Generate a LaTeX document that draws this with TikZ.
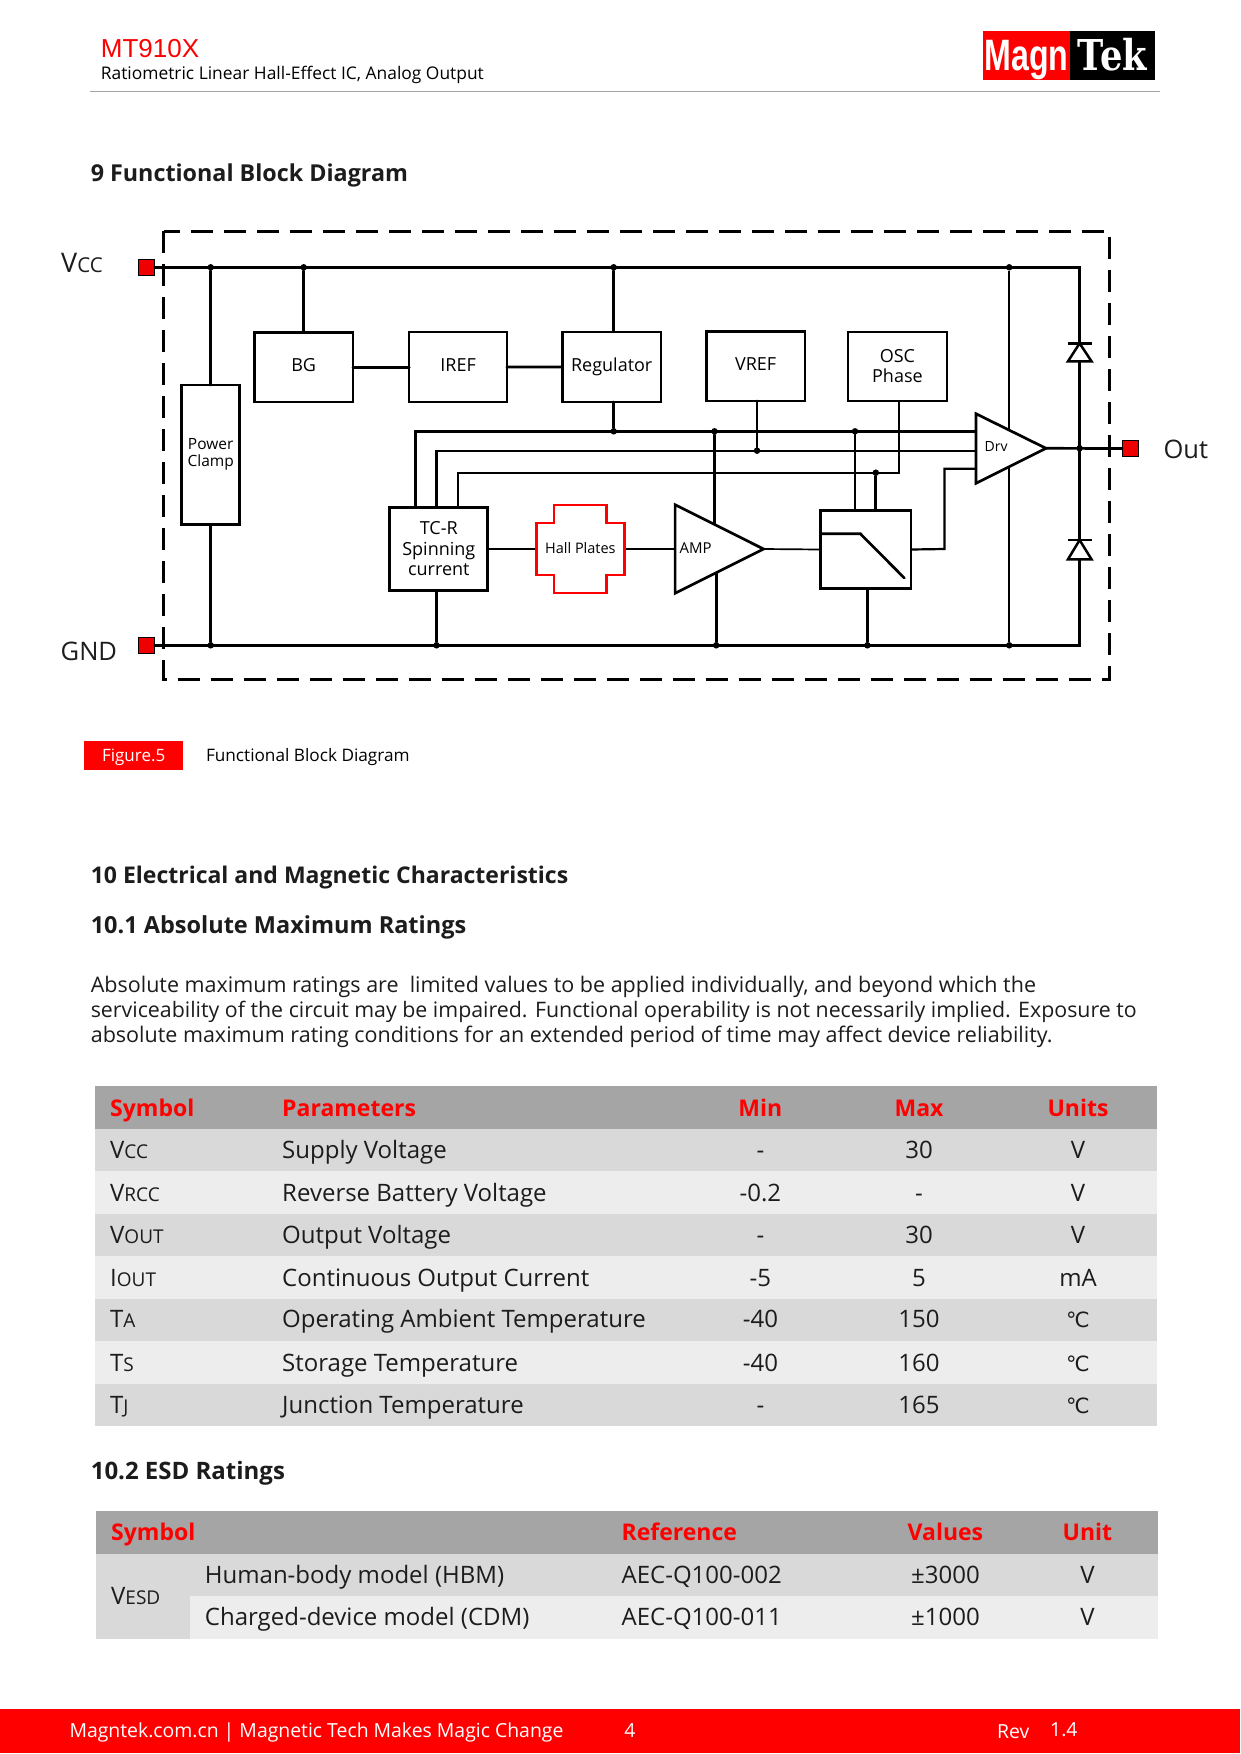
\documentclass[tikz,border=0pt]{standalone}
\usepackage{fontspec}
\setmainfont{Open Sans}
\newfontfamily\arialfont{Liberation Sans}
\newfontfamily\slabfont{DejaVu Serif}
\newfontfamily\symbolfont{DejaVu Sans}
\definecolor{magred}{HTML}{FF0000}
\definecolor{padred}{HTML}{EE0000}
\definecolor{headgray}{HTML}{A5A5A5}
\definecolor{rowdark}{HTML}{D9D9D9}
\definecolor{rowlight}{HTML}{EDEDED}
\definecolor{inkgray}{HTML}{1C1C1C}
\newcommand{\fsize}[1]{\fontsize{#1}{#1}\selectfont}
\newcommand{\capsub}[3][19]{#2{\fsize{#1}#3}}
\newcommand{\degc}{{\symbolfont\fsize{21}℃}}
\tikzset{
    wire/.style={line width=2.7pt, line cap=round, line join=miter},
    thinwire/.style={line width=2.2pt},
    hairwire/.style={line width=1.7pt},
    blockbox/.style={draw, fill=white, line width=2.5pt, inner sep=0pt, outer sep=0pt, align=center, font=\fsize{18}},
    oneline/.style={text depth=5pt},
    dot/.style={circle, fill=black, inner sep=0pt, minimum size=6.5pt},
    pad/.style={draw=black, line width=0.8pt, fill=padred, inner sep=0pt, minimum width=16pt, minimum height=16pt},
    pinlabel/.style={anchor=base west, inner sep=0pt, text=inkgray, font=\fsize{25.5}},
    smalllabel/.style={inner sep=0pt, align=center, text=black},
    heading/.style={anchor=base west, inner sep=0pt, text=inkgray, font=\bfseries\fsize{23.3}},
    bodyline/.style={anchor=base west, inner sep=0pt, text=inkgray, font=\fsize{21.5}},
    cellleft/.style={anchor=base west, inner sep=0pt, text=inkgray, font=\fsize{24}},
    cellmid/.style={anchor=base, inner sep=0pt, text=inkgray, font=\fsize{24}},
    headleft/.style={anchor=base west, inner sep=0pt, text=magred, font=\bfseries\fsize{23}},
    headmid/.style={anchor=base, inner sep=0pt, text=magred, font=\bfseries\fsize{23}},
    footer/.style={anchor=base west, inner sep=0pt, text=white, font=\fsize{19.4}}
}
\begin{document}
\begin{tikzpicture}[x=1pt, y=-1pt]
    \useasboundingbox (0,0) rectangle (1240,1754);
    \fill[white] (0,0) rectangle (1240,1754);

    % Page header
    \node[anchor=base west, inner sep=0pt, text=magred, font=\arialfont\fsize{26}] (partname) at (100.7,57.5) {MT910X};
    \node[anchor=base west, inner sep=0pt, text=black, font=\fsize{17.4}] (subtitle) at (100.7,79.5) {Ratiometric Linear Hall-Effect IC, Analog Output};
    \fill[magred] (983,31) rectangle (1070,79.7);
    \fill[black] (1070,31) rectangle (1155,79.7);
    \node[anchor=base, inner sep=0pt, text=white, font=\arialfont\bfseries\fsize{44}] (logomagn) at (1026.5,70) {\scalebox{0.73}[1]{Magn}};
    \node[anchor=base, inner sep=0pt, text=white, font=\slabfont\bfseries\fsize{42.5}] (logotek) at (1112.5,70) {\scalebox{0.83}[1]{Tek}};
    \draw[line width=1.3pt, color=headgray] (90,91.7) -- (1160,91.7);

    \node[heading] (sectionnine) at (90.6,181) {9 Functional Block Diagram};

    % Chip outline
    \draw[line width=2.9pt, dash pattern=on 22pt off 11pt] (163.6,231.3) rectangle (1109.9,679.3);

    % Junctions
    \node[pad] (vccpad) at (146.6,267.3) {};
    \node[pad] (gndpad) at (146.6,645.3) {};
    \node[pad] (outpad) at (1130.5,448.5) {};
    \node[dot] (vccclamp) at (210.7,267.3) {};
    \node[dot] (vccbg) at (303.7,267.3) {};
    \node[dot] (vccreg) at (613.7,267.3) {};
    \node[dot] (vccdrv) at (1009.2,267.3) {};
    \node[dot] (gndclamp) at (210.7,645.3) {};
    \node[dot] (gndtcr) at (436.5,645.3) {};
    \node[dot] (gndamp) at (716.2,645.3) {};
    \node[dot] (gndfilt) at (867.4,645.3) {};
    \node[dot] (gnddrv) at (1009.2,645.3) {};
    \node[dot] (outjoin) at (1079.6,448.3) {};
    \node[dot] (busreg) at (613.7,431.3) {};
    \node[dot] (busamp) at (714.5,431.3) {};
    \node[dot] (busfilt) at (855,431.3) {};
    \node[dot] (busvref) at (757,450.7) {};
    \node[dot] (busosc) at (875.8,472.7) {};
    \coordinate (vcccorner) at (1079.6,267.3);
    \coordinate (gndcorner) at (1079.6,645.3);
    \coordinate (tcrbusa) at (415.4,431.3);
    \coordinate (tcrbusb) at (436.5,450.7);
    \coordinate (tcrbusc) at (457.9,472.7);
    \coordinate (oscbus) at (899,472.7);
    \coordinate (drvina) at (980,431.3);
    \coordinate (drvinb) at (980,450.7);
    \coordinate (drvinc) at (980,468.7);
    \coordinate (filtbend) at (944.5,468.7);
    \coordinate (filtout) at (944.5,549);
    \coordinate (hallin) at (536.4,549);
    \coordinate (hallout) at (624.4,549);
    \coordinate (ampin) at (675.1,549);
    \coordinate (ampout) at (763.5,549);
    \coordinate (drvout) at (1046,448.3);

    % Blocks
    \node[blockbox, font=\fsize{15.5}, minimum width=58pt, minimum height=139.7pt] (clamp) at (210.7,454.8) {Power\\[1.5pt]Clamp};
    \node[blockbox, oneline, minimum width=98.7pt, minimum height=69.7pt] (bg) at (303.7,367.2) {BG};
    \node[blockbox, oneline, line width=2.2pt, minimum width=97.6pt, minimum height=69.7pt] (iref) at (458.1,367.2) {IREF};
    \node[blockbox, oneline, line width=2.2pt, minimum width=98.6pt, minimum height=70.3pt] (regulator) at (611.7,366.8) {Regulator};
    \node[blockbox, oneline, minimum width=98.3pt, minimum height=69.3pt] (vref) at (755.7,366.3) {VREF};
    \node[blockbox, line width=2.2pt, minimum width=98.8pt, minimum height=69.3pt] (osc) at (897.4,366.3) {OSC\\[2pt]Phase};
    \node[blockbox, line width=2.8pt, minimum width=98pt, minimum height=83pt] (tcr) at (438.8,548.8) {TC-R\\[2.5pt]Spinning\\[2.5pt]current};
    \node[blockbox, minimum width=90.7pt, minimum height=78.4pt] (filter) at (865.8,549.5) {};
    \draw[wire] (821,533.7) -- (860.3,533.7) -- (904.3,578);

    % Connections
    \draw[wire] (vccpad) -- (vcccorner) -- (gndcorner) -- (gndpad);
    \draw[wire] (vccclamp) -- (clamp);
    \draw[wire] (gndclamp) -- (clamp);
    \draw[wire] (vccbg) -- (bg);
    \draw[wire] (vccreg) -- (regulator.north -| vccreg);
    \draw[wire] (regulator.south -| busreg) -- (busreg);
    \draw[wire] (bg) -- (iref);
    \draw[wire] (iref) -- (regulator);
    \draw[wire] (tcrbusa |- tcr.north) -- (tcrbusa) -- (drvina);
    \draw[thinwire] (tcrbusb |- tcr.north) -- (tcrbusb) -- (drvinb);
    \draw[thinwire] (tcrbusc |- tcr.north) -- (tcrbusc) -- (oscbus) -- (oscbus |- osc.south);
    \draw[wire] (vref.south -| busvref) -- (busvref);
    \draw[wire] (busfilt) -- (busfilt |- filter.north);
    \draw[wire] (busosc) -- (busosc |- filter.north);
    \draw[wire] (filter.south -| gndfilt) -- (gndfilt);
    \draw[wire] (tcr.south -| gndtcr) -- (gndtcr);
    \draw[hairwire] (vccdrv) -- (gnddrv);
    \draw[wire] (busamp) -- (busamp |- ampin);
    \draw[wire] (gndamp |- ampin) -- (gndamp);
    \draw[hairwire] (tcr.east |- hallin) -- (hallin);
    \draw[hairwire] (hallout) -- (ampin);
    \draw[hairwire] (ampout) -- (filter.west);
    \draw[thinwire] (filter.east) -- (filtout) -- (filtbend) -- (drvinc);
    \draw[wire] (drvout) -- (outpad);

    % Hall plates and triangles
    \draw[draw=magred, fill=white, line width=2.2pt] (553.6,505.3) -- (606.4,505.3) -- (606.4,523.3) -- (624.4,523.3) -- (624.4,575) -- (606.4,575) -- (606.4,592.7) -- (553.6,592.7) -- (553.6,575) -- (536.4,575) -- (536.4,523.3) -- (553.6,523.3) -- cycle;
    \node[smalllabel, font=\fsize{14.5}] (hall) at (580.4,548) {Hall Plates};
    \draw[fill=white, line width=2.7pt, line join=miter] (675.1,504.7) -- (763.5,549) -- (675.1,593.3) -- cycle;
    \node[smalllabel, font=\fsize{15}, anchor=west] (amp) at (679.5,548) {AMP};
    \draw[fill=white, line width=2.7pt, line join=miter] (975.9,413.7) -- (1046,448.3) -- (975.9,483.3) -- cycle;
    \node[smalllabel, font=\fsize{14}, anchor=west] (drv) at (984.5,446) {Drv};

    % Clamp diodes
    \draw[fill=white, line width=2.5pt] (1068,361.3) -- (1079.6,343.3) -- (1091.5,361.3) -- cycle;
    \draw[line width=2.5pt] (1067.5,343.3) -- (1092,343.3);
    \draw[fill=white, line width=2.5pt] (1068,559.3) -- (1079.6,540) -- (1091.5,559.3) -- cycle;
    \draw[line width=2.5pt] (1067.5,540) -- (1092,540);

    % Pin labels
    \node[pinlabel] (vcclabel) at (61,272.8) {\capsub[20.5]{\fsize{27}V}{CC}};
    \node[pinlabel] (gndlabel) at (60.5,660.3) {GND};
    \node[pinlabel] (outlabel) at (1163.4,458.3) {Out};

    % Figure caption
    \fill[magred] (84,740.5) rectangle (183.4,769.5);
    \node[inner sep=0pt, text=white, font=\fsize{17}] (figtag) at (133.7,757) {Figure.5};
    \node[anchor=west, inner sep=0pt, text=black, font=\fsize{17.2}] (figcaption) at (205.8,757) {Functional Block Diagram};

    % Section 10 text
    \node[heading, font=\bfseries\fsize{23}] (sectionten) at (90.6,883) {10 Electrical and Magnetic Characteristics};
    \node[heading, font=\bfseries\fsize{23.5}] (sectionabs) at (90.6,933) {10.1 Absolute Maximum Ratings};
    \node[bodyline] (introa) at (90.6,992.5) {Absolute maximum ratings are\ \ limited values to be applied individually, and beyond which the};
    \node[bodyline, font=\fsize{21.35}] (introb) at (90.6,1017.5) {serviceability of the circuit may be impaired. Functional operability is not necessarily implied. Exposure to};
    \node[bodyline] (introc) at (90.6,1042.5) {absolute maximum rating conditions for an extended period of time may affect device reliability.};

    % Absolute maximum table
    \fill[headgray] (95,1086) rectangle (1157,1129);
    \node[headleft] (abssym) at (110,1116) {Symbol};
    \node[headleft] (absparam) at (282,1116) {Parameters};
    \node[headmid] (absmin) at (760.4,1116) {Min};
    \node[headmid] (absmax) at (919,1116) {Max};
    \node[headmid] (absunit) at (1078,1116) {Units};
    \foreach \rowid/\rowtop/\rowbot/\rowbase/\rowfill/\rowsym/\rowparam/\rowmin/\rowmax/\rowunit in {
        a/1129/1171/1158.3/rowdark/{\capsub{V}{CC}}/{Supply Voltage}/-/30/V,
        b/1171/1214/1201/rowlight/{\capsub{V}{RCC}}/{Reverse Battery Voltage}/-0.2/-/V,
        c/1214/1255.7/1243.5/rowdark/{\capsub{V}{OUT}}/{Output Voltage}/-/30/V,
        d/1255.7/1299/1286/rowlight/{\capsub{I}{OUT}}/{Continuous Output Current}/-5/5/mA,
        e/1299/1340.7/1327.7/rowdark/{\capsub{T}{A}}/{Operating Ambient Temperature}/-40/150/\degc,
        f/1340.7/1384/1371/rowlight/{\capsub{T}{S}}/{Storage Temperature}/-40/160/\degc,
        g/1384/1425.7/1413.2/rowdark/{\capsub{T}{J}}/{Junction Temperature}/-/165/\degc}{
        \fill[\rowfill] (95,\rowtop) rectangle (1157,\rowbot);
        \node[cellleft] (sym\rowid) at (110,\rowbase) {\rowsym};
        \node[cellleft] (param\rowid) at (282,\rowbase) {\rowparam};
        \node[cellmid] (min\rowid) at (760.4,\rowbase) {\rowmin};
        \node[cellmid] (max\rowid) at (919,\rowbase) {\rowmax};
        \node[cellmid] (unit\rowid) at (1078,\rowbase) {\rowunit};
    }

    % ESD table
    \node[heading, font=\bfseries\fsize{24}] (sectionesd) at (90.6,1479) {10.2 ESD Ratings};
    \fill[headgray] (96.3,1511) rectangle (1157.7,1553.7);
    \node[headleft] (esdsym) at (111,1540.3) {Symbol};
    \node[headleft] (esdref) at (621.4,1540.3) {Reference};
    \node[headmid] (esdval) at (945.4,1540.3) {Values};
    \node[headmid] (esdunit) at (1087.4,1540.3) {Unit};
    \fill[rowdark] (96.3,1553.7) rectangle (1157.7,1596);
    \fill[rowlight] (190.2,1596) rectangle (1157.7,1638.7);
    \fill[rowdark] (96.3,1596) rectangle (190.2,1638.7);
    \node[cellleft] (esdvsym) at (111,1604) {\capsub{V}{ESD}};
    \node[cellleft] (hbmname) at (204.7,1583.7) {Human-body model (HBM)};
    \node[cellleft] (hbmref) at (621.4,1583.7) {AEC-Q100-002};
    \node[cellmid] (hbmval) at (945.4,1583.7) {±3000};
    \node[cellmid] (hbmunit) at (1087.4,1583.7) {V};
    \node[cellleft] (cdmname) at (204.7,1625.3) {Charged-device model (CDM)};
    \node[cellleft] (cdmref) at (621.4,1625.3) {AEC-Q100-011};
    \node[cellmid] (cdmval) at (945.4,1625.3) {±1000};
    \node[cellmid] (cdmunit) at (1087.4,1625.3) {V};

    % Page footer
    \fill[magred] (0,1709) rectangle (1240,1752.7);
    \node[footer] (footsite) at (69.3,1737.7) {Magntek.com.cn | Magnetic Tech Makes Magic Change};
    \node[footer, anchor=base] (footpage) at (630,1737.7) {4};
    \node[footer] (footrev) at (997,1738.5) {Rev};
    \node[footer] (footver) at (1050,1736.5) {1.4};
\end{tikzpicture}
\end{document}
